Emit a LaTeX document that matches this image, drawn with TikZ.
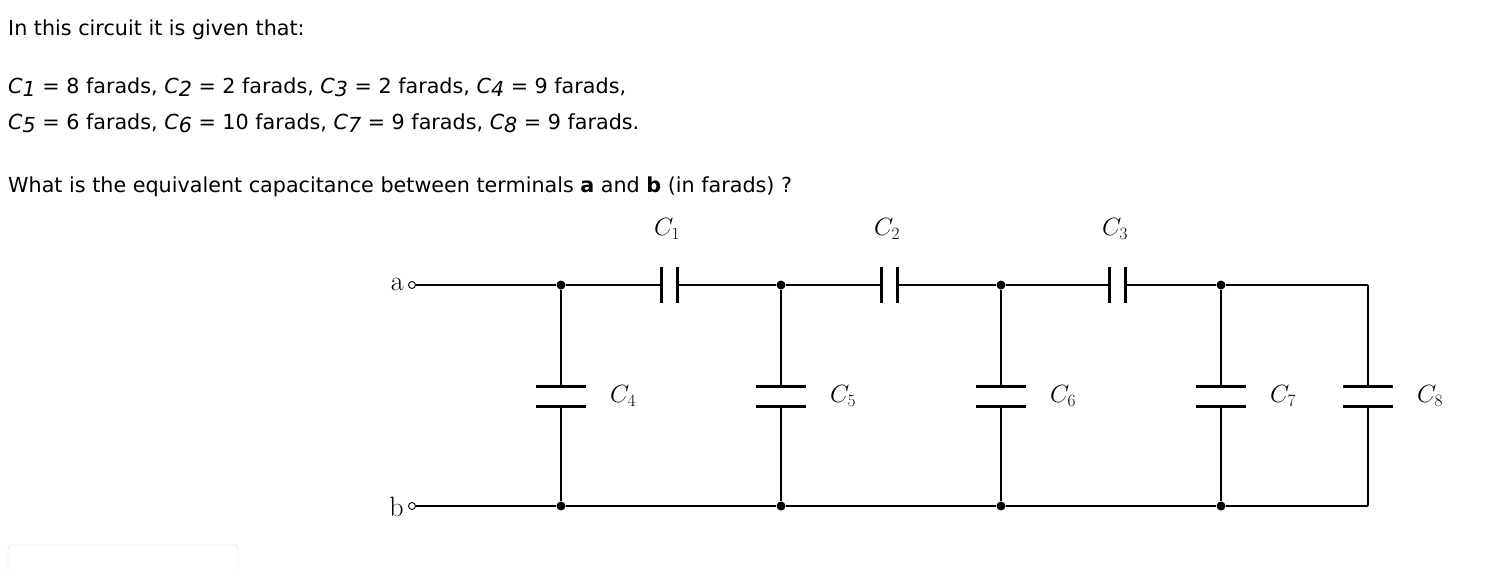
\documentclass[tikz,border=0pt]{standalone}
\usepackage{fontspec}
\setmainfont{DejaVu Sans}
\newfontfamily\lmr{Latin Modern Roman}
\begin{document}
\begin{tikzpicture}[x=1pt,y=-1pt,
  wire/.style={line width=1.1pt},
  dot/.style={circle,fill,inner sep=0pt,minimum size=9pt},
  term/.style={circle,draw,line width=0.9pt,fill=white,inner sep=0pt,minimum size=7pt},
  txt/.style={anchor=west,inner sep=0pt,font=\fontsize{20.7}{24}\selectfont},
  clab/.style={inner sep=0pt,font=\fontsize{24}{28}\selectfont}]
\useasboundingbox (0,0) rectangle (1504,570);
\draw[rounded corners=4pt,gray!30] (8,575) -- (8,545) -- (238,545) -- (238,575);
\node[txt] (t1) at (8,30) {In this circuit it is given that:};
\node[txt] (t2) at (8,87) {\textit{C}\raisebox{-3pt}{\textit{1}} = 8 farads, \textit{C}\raisebox{-3pt}{\textit{2}} = 2 farads, \textit{C}\raisebox{-3pt}{\textit{3}} = 2 farads, \textit{C}\raisebox{-3pt}{\textit{4}} = 9 farads,};
\node[txt] (t3) at (8,123) {\textit{C}\raisebox{-3pt}{\textit{5}} = 6 farads, \textit{C}\raisebox{-3pt}{\textit{6}} = 10 farads, \textit{C}\raisebox{-3pt}{\textit{7}} = 9 farads, \textit{C}\raisebox{-3pt}{\textit{8}} = 9 farads.};
\node[txt] (t4) at (8,187) {What is the equivalent capacitance between terminals \textbf{a} and \textbf{b} (in farads) ?};
% terminals
\node[term] (a) at (412,285) {};
\node[term] (b) at (412,506) {};
\node[clab,anchor=east,font=\fontsize{28}{30}\selectfont] (la) at (404,284) {\lmr a};
\node[clab,anchor=east,font=\fontsize{28}{30}\selectfont] (lb) at (404,507) {\lmr b};
% junctions
\foreach \i/\x in {1/561,2/781,3/1001,4/1221}{
  \node[dot] (t\i) at (\x,285) {};
  \node[dot] (b\i) at (\x,506) {};
}
\coordinate (tr) at (1368,285);
\coordinate (br) at (1368,506);
% series caps
\foreach \n/\x/\l in {s1/669/1,s2/889/2,s3/1117/3}{
  \coordinate (\n L) at (\x-8,285);
  \coordinate (\n R) at (\x+8,285);
  \draw[line width=3pt] (\x-8,267) -- (\x-8,303) (\x+8,267) -- (\x+8,303);
  \node[clab] (lab\n) at (\x-2,229) {$C_{\l}$};
}
\draw[wire] (a) -- (t1) -- (s1L) (s1R) -- (t2) -- (s2L) (s2R) -- (t3) -- (s3L) (s3R) -- (t4) -- (tr);
\draw[wire] (b) -- (b1) -- (b2) -- (b3) -- (b4) -- (br);
% shunt caps
\foreach \n/\x/\l in {p1/561/4,p2/781/5,p3/1001/6,p4/1221/7,p5/1368/8}{
  \coordinate (\n T) at (\x,386);
  \coordinate (\n B) at (\x,406);
  \draw[line width=3pt] (\x-25,386) -- (\x+25,386) (\x-25,406) -- (\x+25,406);
  \node[clab] (lab\n) at (\x+62,396) {$C_{\l}$};
}
\draw[wire] (t1) -- (p1T) (p1B) -- (b1);
\draw[wire] (t2) -- (p2T) (p2B) -- (b2);
\draw[wire] (t3) -- (p3T) (p3B) -- (b3);
\draw[wire] (t4) -- (p4T) (p4B) -- (b4);
\draw[wire] (tr) -- (p5T) (p5B) -- (br);
\end{tikzpicture}
\end{document}
